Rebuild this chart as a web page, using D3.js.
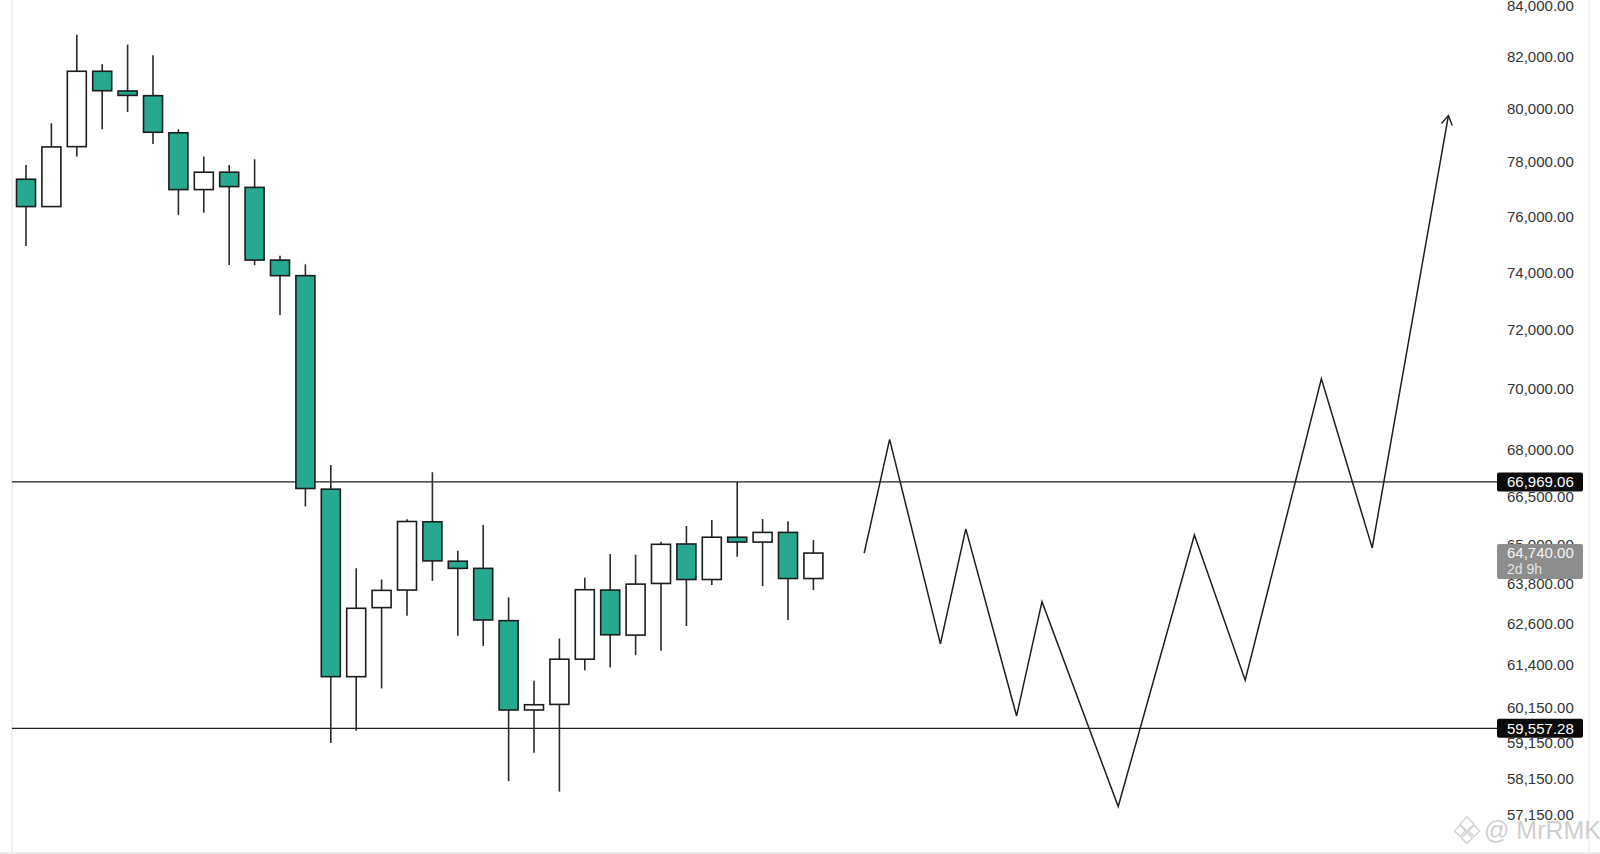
<!DOCTYPE html>
<html>
<head>
	<meta charset="utf-8">
	<title>BTC candles</title>
	<style type="text/css">
	body{
		margin:0;
		background:#fff;
		font-family:"Liberation Sans", Arial, sans-serif;
	}
	.tick text{
		fill:#333;
		font-size:15px;
	}
	</style>
	<script src="https://cdn.jsdelivr.net/npm/d3@7"></script>
</head>
<body>
<script type="text/javascript">
	var width = 1600;
	var height = 854;

	// OHLC, one entry per candle
	var opens  = [77350, 76350, 78560, 81430, 80670, 80490, 79080, 76970, 77610, 77050, 74430, 73880, 66740, 61040, 63080, 63610,
	              65710, 64490, 64270, 62690, 60080, 60240, 61550, 63610, 62260, 63810, 65020, 63930, 65230, 65080, 65380, 63960];
	var highs  = [77880, 79440, 82860, 81700, 82470, 82050, 79210, 78190, 77880, 78090, 74580, 74280, 67510, 64270, 63930, 65790,
	              67280, 64810, 65610, 63390, 60920, 62160, 63980, 64710, 64690, 65090, 65580, 65770, 66969.06, 65800, 65730, 65140];
	var lows   = [74930, 76350, 78190, 79210, 79870, 78660, 76050, 76130, 74260, 74250, 72510, 66190, 59140, 59490, 60700, 62840,
	              63890, 62240, 61940, 58080, 58870, 57790, 61230, 61310, 61670, 61800, 62530, 63760, 64630, 63730, 62710, 63610];
	var closes = [76350, 78550, 81430, 80680, 80500, 79100, 76970, 77610, 77080, 74430, 73880, 66760, 61040, 63060, 63600, 65720,
	              64500, 64270, 62710, 60080, 60230, 61550, 63620, 62270, 63790, 65010, 63930, 65230, 65080, 65380, 63960, 64740];

	// drawn projection (candle slot, price)
	var pathIdx   = [33, 34, 36, 37, 39, 40, 43, 46, 48, 51, 53, 56];
	var pathPrice = [64740, 68340, 62000, 65490, 59910, 63260, 57380, 65300, 60940, 70340, 64900, 79730];

	// levels and axis
	var levels = [66969.06, 59557.28];
	var lastPrice = 64740;
	var lastLabel = "2d 9h";
	var tickValues = [84000, 82000, 80000, 78000, 76000, 74000, 72000, 70000, 68000, 66500, 65000,
	                  63800, 62600, 61400, 60150, 59150, 58150, 57150];

	var svg = d3.select("body")
				.append("svg")
				.attr("width", width)
				.attr("height", height);

	var x = d3.scaleLinear().domain([0, 56]).range([26, 26 + 56 * 25.4]);
	var y = d3.scaleLog().domain([57150, 84000]).range([815, 6]);
	var fmt = d3.format(",.2f");
	var bodyW = 19;

	// faint frame
	svg.append("line").attr("x1", 12).attr("x2", 12).attr("y1", 0).attr("y2", 852).attr("stroke", "#f0f0f0").attr("stroke-width", 2);
	svg.append("line").attr("x1", 0).attr("x2", width).attr("y1", 853).attr("y2", 853).attr("stroke", "#eee").attr("stroke-width", 2);
	svg.append("line").attr("x1", 1589).attr("x2", 1589).attr("y1", 0).attr("y2", 852).attr("stroke", "#f3f3f3").attr("stroke-width", 2);

	// axis labels
	var axis = d3.axisRight(y)
				.tickValues(tickValues)
				.tickFormat(fmt)
				.tickSize(0)
				.tickPadding(0);
	var ax = svg.append("g")
				.attr("transform", "translate(1507,0)")
				.call(axis);
	ax.select(".domain").remove();

	// horizontal levels
	svg.selectAll(".level")
		.data(levels)
		.enter()
		.append("line")
		.attr("class", "level")
		.attr("x1", 12)
		.attr("x2", 1497)
		.attr("y1", function(d){ return y(d); })
		.attr("y2", function(d){ return y(d); })
		.attr("stroke", "#1e1e1e")
		.attr("stroke-width", 1.3);

	// candles
	var candles = d3.range(opens.length).map(function(i){
		return {i: i, o: opens[i], h: highs[i], l: lows[i], c: closes[i]};
	});

	var cg = svg.append("g")
				.selectAll("g")
				.data(candles)
				.enter()
				.append("g");

	cg.append("line")
		.attr("x1", function(d){ return x(d.i); })
		.attr("x2", function(d){ return x(d.i); })
		.attr("y1", function(d){ return y(d.h); })
		.attr("y2", function(d){ return y(d.l); })
		.attr("stroke", "#2a2a2a")
		.attr("stroke-width", 1.6);

	cg.append("rect")
		.attr("x", function(d){ return x(d.i) - bodyW / 2; })
		.attr("y", function(d){ return y(Math.max(d.o, d.c)); })
		.attr("width", bodyW)
		.attr("height", function(d){ return Math.max(3, y(Math.min(d.o, d.c)) - y(Math.max(d.o, d.c))); })
		.attr("fill", function(d){ return d.c < d.o ? "#27a98f" : "#ffffff"; })
		.attr("stroke", "#1c1c1c")
		.attr("stroke-width", 1.6);

	// projection zigzag with open arrow head
	svg.append("defs")
		.append("marker")
		.attr("id", "arrow")
		.attr("viewBox", "-12 -8 14 16")
		.attr("refX", 0)
		.attr("refY", 0)
		.attr("markerUnits", "userSpaceOnUse")
		.attr("markerWidth", 14)
		.attr("markerHeight", 16)
		.attr("orient", "auto")
		.append("path")
		.attr("d", "M-9,-5.5L0,0L-9,5.5")
		.attr("fill", "none")
		.attr("stroke", "#222")
		.attr("stroke-width", 1.4);

	var line = d3.line()
				.x(function(d){ return x(d[0]); })
				.y(function(d){ return y(d[1]); });

	svg.append("path")
		.datum(d3.zip(pathIdx, pathPrice))
		.attr("d", line)
		.attr("fill", "none")
		.attr("stroke", "#1e1e1e")
		.attr("stroke-width", 1.5)
		.attr("marker-end", "url(#arrow)");

	// price tags on the axis
	var tag = svg.selectAll(".tag")
				.data(levels)
				.enter()
				.append("g")
				.attr("class", "tag")
				.attr("transform", function(d){ return "translate(1497," + y(d) + ")"; });
	tag.append("rect")
		.attr("x", 0).attr("y", -9.5)
		.attr("width", 86).attr("height", 19)
		.attr("rx", 2)
		.attr("fill", "#0a0a0a");
	tag.append("text")
		.attr("x", 10).attr("dy", "0.35em")
		.attr("fill", "#fff")
		.style("font-size", "15px")
		.text(function(d){ return fmt(d); });

	var cur = svg.append("g").attr("transform", "translate(1497," + y(lastPrice) + ")");
	cur.append("rect")
		.attr("x", 0).attr("y", -9)
		.attr("width", 86).attr("height", 35)
		.attr("rx", 2)
		.attr("fill", "#8d8d8d");
	cur.append("text")
		.attr("x", 10).attr("dy", "0.35em")
		.attr("fill", "#f4f4f4")
		.style("font-size", "15px")
		.text(fmt(lastPrice));
	cur.append("text")
		.attr("x", 10).attr("y", 16).attr("dy", "0.35em")
		.attr("fill", "#e2e2e2")
		.style("font-size", "14px")
		.text(lastLabel);

	// watermark
	var wm = svg.append("g").attr("transform", "translate(1467,830)").attr("opacity", 0.9);
	[[0, -6, 5], [-7, 1, 4], [7, 1, 4], [0, 8, 4]].forEach(function(s){
		wm.append("rect")
			.attr("x", s[0] - s[2]).attr("y", s[1] - s[2])
			.attr("width", s[2] * 2).attr("height", s[2] * 2)
			.attr("transform", "rotate(45," + s[0] + "," + s[1] + ")")
			.attr("fill", "none")
			.attr("stroke", "#d2d2d2")
			.attr("stroke-width", 1.5);
	});
	svg.append("text")
		.attr("x", 1484).attr("y", 839)
		.attr("fill", "#cfcfcf")
		.style("font-size", "25px")
		.text("@ MrRMK");
</script>
</body>
</html>
